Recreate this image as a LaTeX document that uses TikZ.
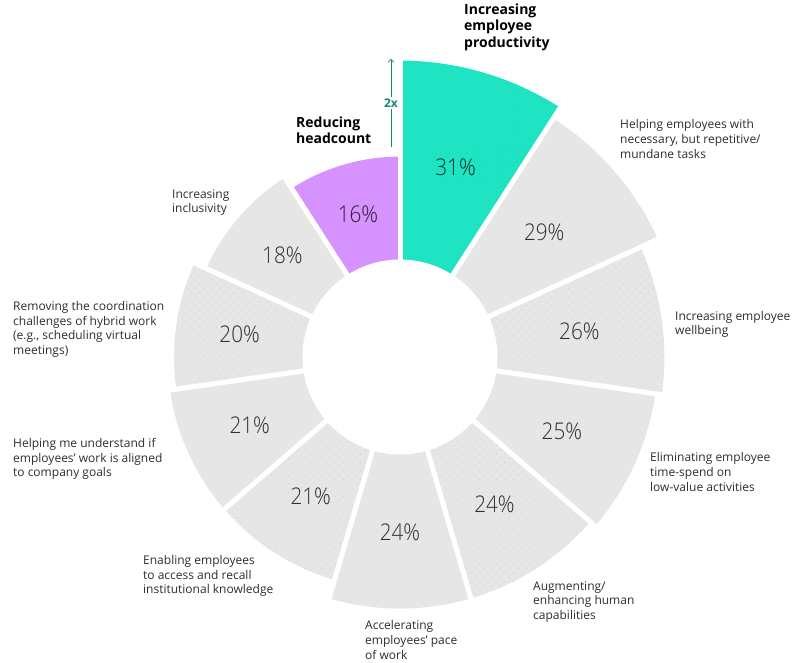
\documentclass[tikz,border=0pt]{standalone}
\usepackage{fontspec}
\setmainfont{Open Sans}
\IfFontExistsTF{Open Sans Light}{\newfontfamily\pctfont{Open Sans Light}}{\newfontfamily\pctfont{Open Sans}}
\usepackage{tikz}
\usetikzlibrary{patterns.meta,arrows.meta}
\definecolor{barteal}{RGB}{30,228,196}
\definecolor{dotteal}{RGB}{24,212,182}
\definecolor{barpurple}{RGB}{214,146,255}
\definecolor{bargray}{RGB}{230,230,230}
\definecolor{dotgray}{RGB}{208,208,208}
\definecolor{arrowteal}{RGB}{26,135,118}
\definecolor{textgray}{RGB}{45,45,45}

\begin{document}
\begin{tikzpicture}[x=1pt, y=1pt,
reason/.style={anchor=west, align=left, inner sep=0pt, text=textgray,
  font=\fontsize{12}{14.6}\selectfont},
headline/.style={reason, text=black, font=\fontsize{14}{16.2}\selectfont\bfseries},
pct/.style={text=black, text opacity=0.8, font=\fontsize{23}{23}\pctfont},
]
\useasboundingbox (-400,-305) rectangle (400,357);

% bars, clockwise from the top
\foreach \v/\c/\d [count=\i from 0] in {31/barteal/dotteal, 29/bargray/bargray,
  26/bargray/dotgray, 25/bargray/bargray, 24/bargray/dotgray, 24/bargray/bargray,
  21/bargray/dotgray, 21/bargray/bargray, 20/bargray/dotgray, 18/bargray/bargray,
  16/barpurple/barpurple} {
  \pgfmathsetmacro\a{90-\i*360/11}
  \pgfmathsetmacro\b{\a-360/11}
  \pgfmathsetmacro\R{98+6.4*\v}
  \fill[fill=\c, postaction={pattern={Dots[distance=6pt, angle=45, radius=0.6pt]}, pattern color=\d}]
    (\a:90) arc[start angle=\a, end angle=\b, radius=90]
    -- (\b:\R) arc[start angle=\b, end angle=\a, radius=\R] -- cycle;
  \coordinate (p\i) at ({\a-180/11}:{98+3.2*\v});
}
% gaps
\foreach \k in {0,...,10}
  \draw[white, line width=5pt] (0,0) -- ({90-\k*360/11}:320);
\fill[white] (0,0) circle[radius=97.5];
\foreach \v [count=\i from 0] in {31,29,26,25,24,24,21,21,20,18,16}
  \node[pct] (pct\i) at (p\i) {\scalebox{0.9}[1]{\v\%}};

% 2x arrow
\coordinate (arrowbase) at (-9,210);
\coordinate (arrowtip) at (-9,298);
\draw[arrowteal, line width=0.7pt, -{Straight Barb[length=3pt, width=6pt]}] (arrowbase) --
  node[fill=white, inner sep=2pt, text=arrowteal, font=\fontsize{12}{12}\selectfont\bfseries] (twox) {2x} (arrowtip);

\node[headline] (productivity) at (64,329.7) {Increasing\\employee\\productivity};
\node[headline] (headcount) at (-104,227) {Reducing\\headcount};

\node[reason] (repetitive) at (220,218) {Helping employees with\\necessary, but repetitive/\\mundane tasks};
\node[reason] (wellbeing) at (275,32.5) {Increasing employee\\wellbeing};
\node[reason] (lowvalue) at (250,-115) {Eliminating employee\\time-spend on\\low-value activities};
\node[reason] (augmenting) at (133,-245) {Augmenting/\\enhancing human\\capabilities};
\node[reason] (pace) at (-35,-283) {Accelerating\\employees’ pace\\of work};
\node[reason] (knowledge) at (-257,-219) {Enabling employees\\to access and recall\\institutional knowledge};
\node[reason] (goals) at (-387,-102) {Helping me understand if\\employees’ work is aligned\\to company goals};
\node[reason] (hybrid) at (-387,27.5) {Removing the coordination\\challenges of hybrid work\\(e.g., scheduling virtual\\meetings)};
\node[reason] (inclusivity) at (-228,154.5) {Increasing\\inclusivity};

\end{tikzpicture}
\end{document}
